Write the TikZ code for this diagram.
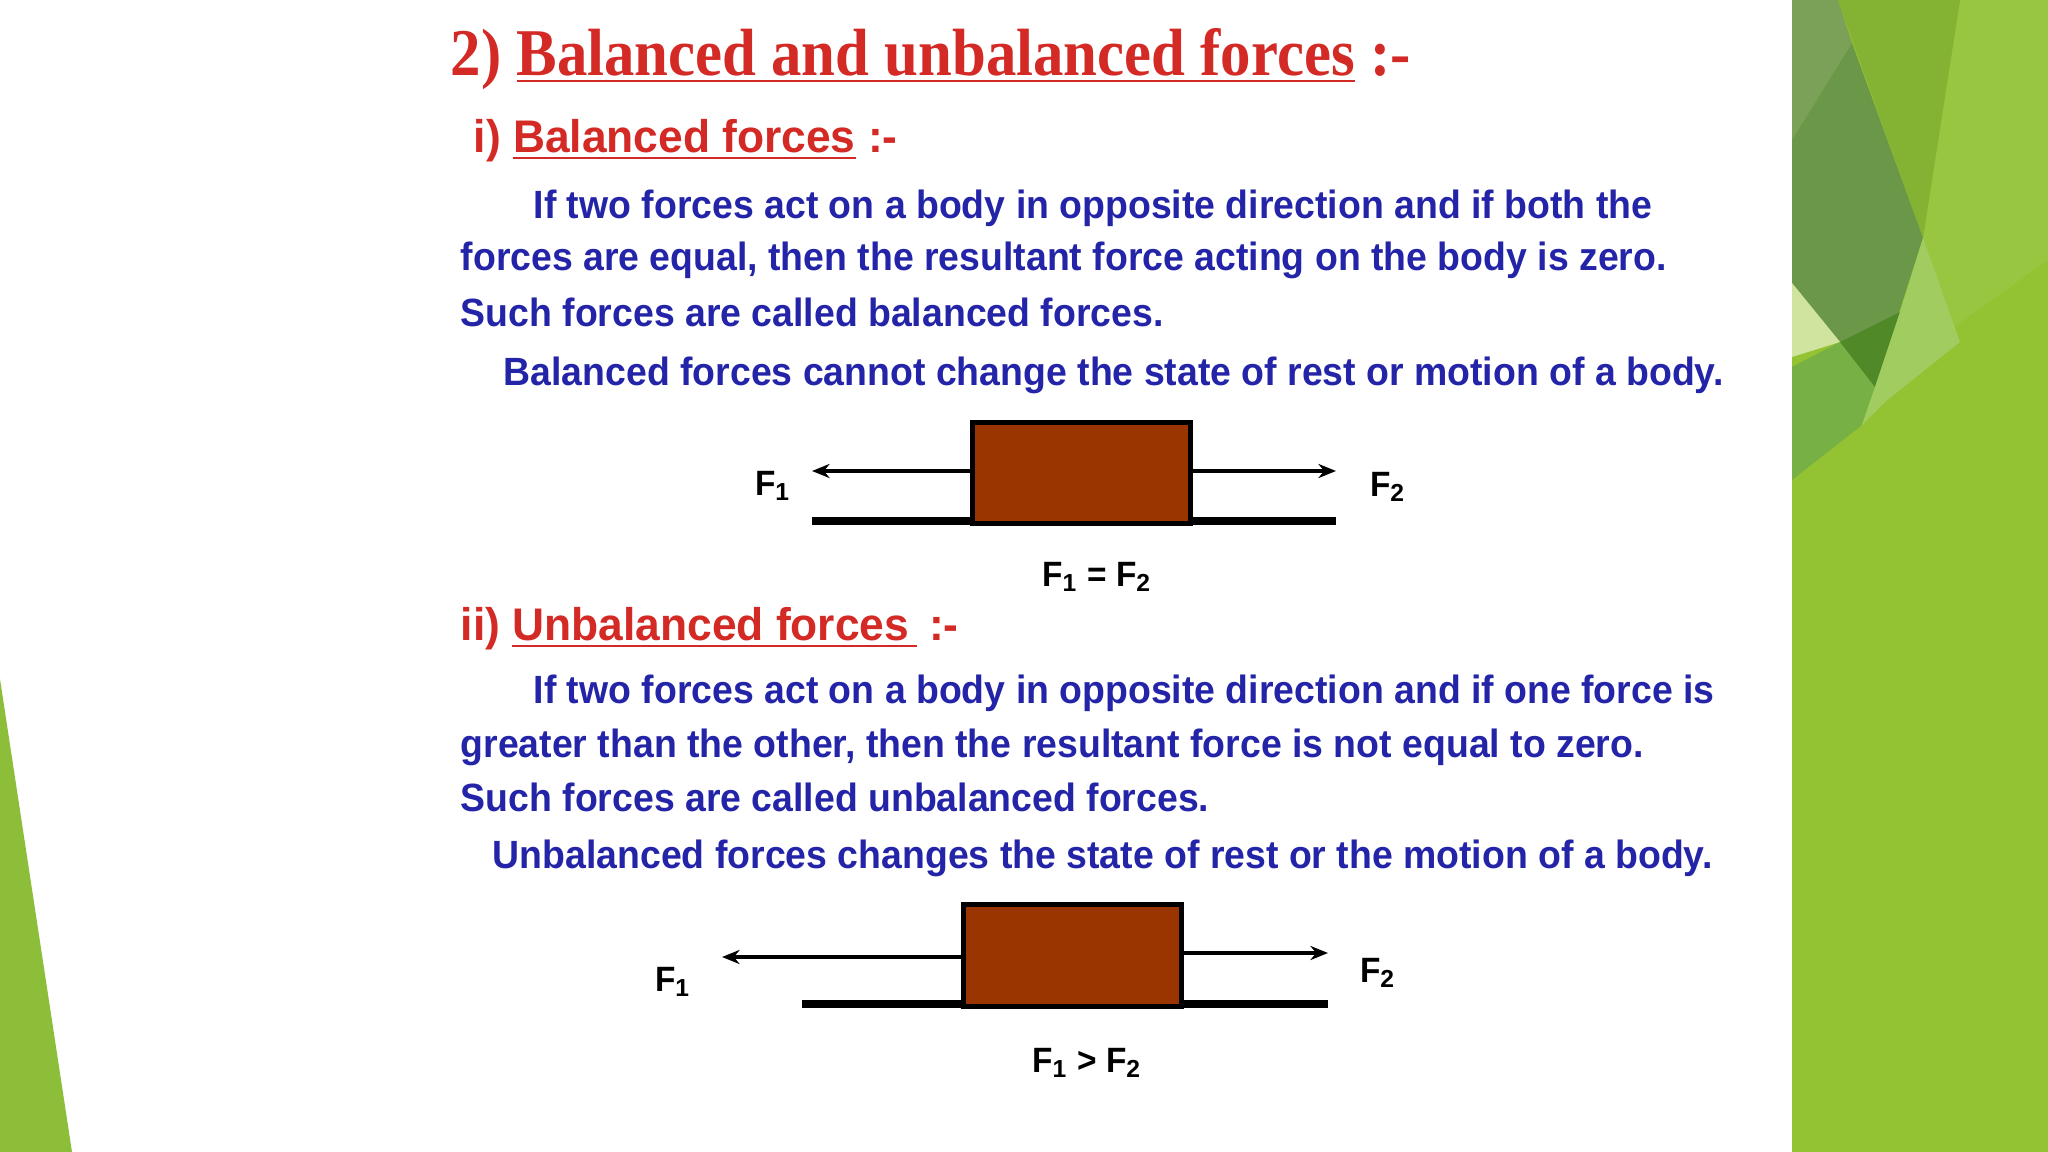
\documentclass[tikz,border=0pt]{standalone}
\usepackage{fontspec}
\setmainfont{Liberation Sans}
\newfontfamily\bodyf[FakeStretch=0.95]{Liberation Sans}
\newfontfamily\headf[FakeStretch=0.97]{Liberation Sans}
\newfontfamily\titlef[FakeStretch=0.91]{Liberation Serif}
\usetikzlibrary{arrows.meta}
\definecolor{tred}{HTML}{D42A25}
\definecolor{tblue}{HTML}{2424A8}
\definecolor{brick}{HTML}{9A3500}
\tikzset{
  body/.style={anchor=west,inner sep=0pt,text=tblue,font=\bodyf\bfseries\fontsize{11.2}{12}\selectfont},
  head/.style={anchor=west,inner sep=0pt,text=tred,font=\headf\bfseries\fontsize{13}{14}\selectfont},
  lab/.style={inner sep=0pt,text=black,font=\bodyf\bfseries\fontsize{10}{12}\selectfont},
  blk/.style={draw=black,line width=1.3pt,fill=brick},
  ground/.style={line width=2.2pt},
  force/.style={line width=0.9pt,-{Stealth[length=5pt,width=4pt]}}
}
\begin{document}
\begin{tikzpicture}[x=0.01cm,y=-0.01cm]
\useasboundingbox (0,0) rectangle (2048,1152);
\fill[white] (0,0) rectangle (2048,1152);
% left green triangle
\fill[fill={rgb,255:red,141;green,190;blue,58}] (0,679) -- (72,1152) -- (0,1152) -- cycle;
% right panel
\fill[fill={rgb,255:red,147;green,194;blue,50}] (1792,0) rectangle (2048,1152);
\fill[fill={rgb,255:red,152;green,198;blue,64}] (1960,0) -- (2048,0) -- (2048,260) -- (1950,330) -- (1923,238) -- cycle;
\fill[fill={rgb,255:red,123;green,160;blue,88}] (1792,0) -- (1838,0) -- (1852,43) -- (1792,140) -- cycle;
\fill[fill={rgb,255:red,132;green,178;blue,50}] (1838,0) -- (1960,0) -- (1923,238) -- cycle;
\fill[fill={rgb,255:red,106;green,152;blue,72}] (1792,140) -- (1852,43) -- (1923,238) -- (1875,387) -- (1840,342) -- (1792,283) -- cycle;
\fill[fill={rgb,255:red,208;green,228;blue,160}] (1792,283) -- (1840,342) -- (1792,357) -- cycle;
\fill[fill={rgb,255:red,119;green,176;blue,69}] (1792,367) -- (1840,342) -- (1875,387) -- (1862,425) -- (1792,480) -- cycle;
\fill[fill={rgb,255:red,80;green,138;blue,40}] (1840,342) -- (1900,312) -- (1875,387) -- cycle;
\fill[fill={rgb,255:red,160;green,204;blue,96}] (1923,238) -- (1960,342) -- (1885,402) -- (1862,425) -- (1875,387) -- (1900,312) -- cycle;
% title
\node[anchor=west,inner sep=0pt,text=tred,font=\titlef\bfseries\fontsize{19}{20}\selectfont] (title) at (450,59) {2) \underline{Balanced and unbalanced forces} :-};
\node[head] (h1) at (473,141) {i) \underline{Balanced forces} :-};
\node[body] (p1a) at (533,208) {If two forces act on a body in opposite direction and if both the};
\node[body] (p1b) at (460,260) {forces are equal, then the resultant force acting on the body is zero.};
\node[body] (p1c) at (460,312) {Such forces are called balanced forces.};
\node[body] (p1d) at (503,375) {Balanced forces cannot change the state of rest or motion of a body.};
% diagram 1
\draw[ground] (812,521) -- (1336,521);
\node[blk,minimum width=2.18cm,minimum height=1.01cm,anchor=north west,inner sep=0pt] (box1) at (970,420) {};
\coordinate (a1l) at (812,471); \coordinate (a1r) at (1336,471);
\draw[force] (box1.west |- a1l) -- (a1l);
\draw[force] (box1.east |- a1r) -- (a1r);
\node[lab] (f1a) at (773,486) {F$_{\mathbf 1}$};
\node[lab] (f2a) at (1388,487) {F$_{\mathbf 2}$};
\node[lab] (eq1) at (1097,577) {F$_{\mathbf 1}$ = F$_{\mathbf 2}$};
% part ii
\node[head] (h2) at (460,629) {ii) \underline{Unbalanced forces\,} :-};
\node[body] (p2a) at (533,693) {If two forces act on a body in opposite direction and if one force is};
\node[body] (p2b) at (460,747) {greater than the other, then the resultant force is not equal to zero.};
\node[body] (p2c) at (460,797) {Such forces are called unbalanced forces.};
\node[body] (p2d) at (492,858) {Unbalanced forces changes the state of rest or the motion of a body.};
% diagram 2
\draw[ground] (802,1004) -- (1328,1004);
\node[blk,minimum width=2.18cm,minimum height=1.02cm,anchor=north west,inner sep=0pt] (box2) at (961,902) {};
\coordinate (a2l) at (722,957); \coordinate (a2r) at (1328,953);
\draw[force] (box2.west |- a2l) -- (a2l);
\draw[force] (box2.east |- a2r) -- (a2r);
\node[lab] (f1b) at (673,982) {F$_{\mathbf 1}$};
\node[lab] (f2b) at (1378,973) {F$_{\mathbf 2}$};
\node[lab] (eq2) at (1087,1063) {F$_{\mathbf 1}$ > F$_{\mathbf 2}$};
\end{tikzpicture}
\end{document}
